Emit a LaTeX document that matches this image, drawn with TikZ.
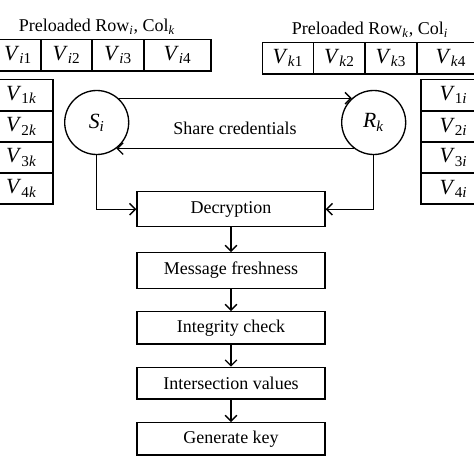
\documentclass[tikz,border=0pt]{standalone}
\usepackage{fontspec}
\setmainfont{Liberation Serif}
\usetikzlibrary{positioning,arrows.meta}

% italic value V with subscript, in the text font
\newcommand{\vval}[1]{\textit{V}\textsubscript{#1}}

\tikzset{
	cell/.style={draw, line width=0.8pt, inner sep=0pt, minimum height=19pt, font=\fontsize{13}{14}\selectfont},
	stepbox/.style={draw, line width=0.8pt, minimum width=112.8pt, minimum height=20pt, inner sep=0pt, font=\fontsize{10.8}{12}\selectfont},
	party/.style={draw, circle, line width=0.8pt, minimum size=38.4pt, inner sep=0pt, font=\fontsize{13}{14}\selectfont},
	flow/.style={-{Straight Barb[length=3.5pt,width=7pt]}, line width=0.8pt}
}

\begin{document}
\begin{tikzpicture}[x=0.6pt,y=-0.6pt]
	\useasboundingbox (0,0) rectangle (474,474);
	
	% preloaded row and column of S_i
	\node[font=\fontsize{10.8}{12}\selectfont] (rowi) at (97,27) {Preloaded Row\textsubscript{\textit{i}}, Col\textsubscript{\textit{k}}};
	\node[cell, minimum width=27.6pt] (vi1) at (18,55) {\vval{\textit{i}1}};
	\node[cell, minimum width=30.6pt] (vi2) at (66.5,55) {\vval{\textit{i}2}};
	\node[cell, minimum width=31.2pt] (vi3) at (118,55) {\vval{\textit{i}3}};
	\node[cell, minimum width=40.2pt] (vi4) at (177.5,55) {\vval{\textit{i}4}};
	
	\node[cell, minimum width=37.8pt, minimum height=18.6pt] (v1k) at (21.5,95) {\vval{1\textit{k}}};
	\node[cell, minimum width=37.8pt, minimum height=18.6pt] (v2k) at (21.5,126.5) {\vval{2\textit{k}}};
	\node[cell, minimum width=37.8pt, minimum height=18.6pt] (v3k) at (21.5,157.5) {\vval{3\textit{k}}};
	\node[cell, minimum width=37.8pt, minimum height=18.6pt] (v4k) at (21.5,188.5) {\vval{4\textit{k}}};
	
	% preloaded row and column of R_k
	\node[font=\fontsize{10.8}{12}\selectfont] (rowk) at (370,30) {Preloaded Row\textsubscript{\textit{k}}, Col\textsubscript{\textit{i}}};
	\node[cell, minimum width=30.6pt] (vk1) at (288,58) {\vval{\textit{k}1}};
	\node[cell, minimum width=30.8pt] (vk2) at (339.4,58) {\vval{\textit{k}2}};
	\node[cell, minimum width=31.2pt] (vk3) at (391,58) {\vval{\textit{k}3}};
	\node[cell, minimum width=40.8pt] (vk4) at (451,58) {\vval{\textit{k}4}};
	
	\node[cell, minimum width=39pt, minimum height=18.6pt] (v1i) at (453.5,95) {\vval{1\textit{i}}};
	\node[cell, minimum width=39pt, minimum height=18.6pt] (v2i) at (453.5,126.5) {\vval{2\textit{i}}};
	\node[cell, minimum width=39pt, minimum height=18.6pt] (v3i) at (453.5,157.5) {\vval{3\textit{i}}};
	\node[cell, minimum width=39pt, minimum height=18.6pt] (v4i) at (453.5,188.5) {\vval{4\textit{i}}};
	
	% the two parties
	\node[party] (si) at (96.7,122.5) {\textit{S}\textsubscript{\textit{i}}};
	\node[party] (rk) at (373.7,122.5) {\textit{R}\textsubscript{\textit{k}}};
	\node[font=\fontsize{10.8}{12}\selectfont] (share) at (235,128) {Share credentials};
	
	\draw[flow] (si.48) -- (rk.132);
	\draw[flow] (rk.-127) -- (si.-53);
	
	% steps
	\node[stepbox, minimum height=21pt] (dec) at (231,209.2) {Decryption};
	\node[stepbox, minimum height=21.4pt] (fresh) at (231,270.5) {Message freshness};
	\node[stepbox, minimum height=19.4pt] (integ) at (231,327.9) {Integrity check};
	\node[stepbox, minimum height=19pt] (inter) at (231,383.2) {Intersection values};
	\node[stepbox, minimum height=19.4pt] (genkey) at (231,438.9) {Generate key};
	
	\draw[flow] (si.south) |- (dec.west);
	\draw[flow] (rk.south) |- (dec.east);
	\draw[flow] (dec) -- (fresh);
	\draw[flow] (fresh) -- (integ);
	\draw[flow] (integ) -- (inter);
	\draw[flow] (inter) -- (genkey);
	
\end{tikzpicture}
\end{document}
